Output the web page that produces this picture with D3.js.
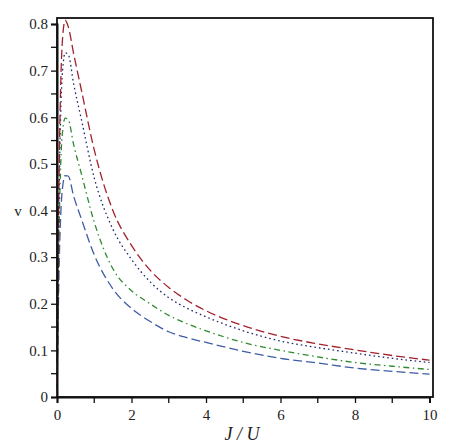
<!DOCTYPE html>
<html>
<head>
<meta charset="utf-8">
<script src="https://cdn.jsdelivr.net/npm/d3@7"></script>
<style>
  html, body { margin: 0; padding: 0; background: #fff; }
  svg { display: block; }
  .tick text { font-family: "Liberation Serif", "DejaVu Serif", serif; font-size: 15px; fill: #222; }
</style>
</head>
<body>
<svg id="chart" width="474" height="445"></svg>
<script>
// J/U sample points shared by every curve
const jValues = [0, 0.03, 0.06, 0.1, 0.15, 0.22, 0.3, 0.45, 0.65, 1.0, 1.5, 2.0, 2.5, 3.0, 3.5, 4.0, 5.0, 6.0, 7.0, 8.0, 9.0, 10.0]

// v values, one array per curve
const vRed = [0, 0.28, 0.5, 0.67, 0.77, 0.808, 0.795, 0.735, 0.66, 0.53, 0.40, 0.325, 0.272, 0.235, 0.207, 0.185, 0.153, 0.13, 0.114, 0.101, 0.089, 0.079]
const vNavy = [0, 0.25, 0.45, 0.61, 0.70, 0.738, 0.735, 0.67, 0.597, 0.47, 0.36, 0.295, 0.247, 0.213, 0.19, 0.172, 0.142, 0.12, 0.106, 0.094, 0.083, 0.074]
const vGreen = [0, 0.2, 0.37, 0.5, 0.57, 0.598, 0.595, 0.54, 0.48, 0.375, 0.275, 0.228, 0.2, 0.175, 0.157, 0.142, 0.117, 0.1, 0.086, 0.074, 0.066, 0.059]
const vBlue = [0, 0.16, 0.29, 0.39, 0.45, 0.475, 0.474, 0.43, 0.383, 0.305, 0.232, 0.19, 0.162, 0.14, 0.127, 0.117, 0.098, 0.083, 0.073, 0.062, 0.055, 0.049]

const xTicks = [0, 2, 4, 6, 8, 10]
const xMinor = [1, 3, 5, 7, 9]
const yTicks = [0, 0.1, 0.2, 0.3, 0.4, 0.5, 0.6, 0.7, 0.8]
const yMinor = [0.05, 0.15, 0.25, 0.35, 0.45, 0.55, 0.65, 0.75]

const series = [
  { v: vBlue, color: '#3d5da6', dash: '9,4' },
  { v: vGreen, color: '#2f8a2f', dash: '6,3.5,1.5,3.5' },
  { v: vNavy, color: '#1f2a6e', dash: '1.6,3' },
  { v: vRed, color: '#a3212e', dash: '9,4' }
]

const svg = d3.select('#chart')
const plotLeft = 57
const plotRight = 433
const plotTop = 18
const plotBottom = 397

const x = d3.scaleLinear().domain([0, 10]).range([plotLeft, 429.5])
const y = d3.scaleLinear().domain([0, 0.8]).range([plotBottom, 24])

// frame
svg.append('rect')
  .attr('x', plotLeft).attr('y', plotTop)
  .attr('width', plotRight - plotLeft).attr('height', plotBottom - plotTop)
  .attr('fill', 'none').attr('stroke', '#111').attr('stroke-width', 1.8)

const line = d3.line()
  .x((d, i) => x(jValues[i]))
  .y(d => y(d))
  .curve(d3.curveMonotoneX)

series.forEach(s => {
  svg.append('path')
    .attr('d', line(s.v))
    .attr('fill', 'none')
    .attr('stroke', s.color)
    .attr('stroke-width', 1.3)
    .attr('stroke-dasharray', s.dash)
})

// axes
const xAxis = svg.append('g')
  .attr('transform', `translate(0,${plotBottom})`)
  .call(d3.axisBottom(x).tickValues(xTicks).tickSize(6).tickPadding(6).tickFormat(d3.format('d')))
xAxis.append('g').selectAll('line').data(xMinor).join('line')
  .attr('x1', d => x(d)).attr('x2', d => x(d))
  .attr('y1', 0).attr('y2', 6)
  .attr('stroke', '#111').attr('stroke-width', 1.3)

const yAxis = svg.append('g')
  .attr('transform', `translate(${plotLeft},0)`)
  .call(d3.axisLeft(y).tickValues(yTicks).tickSize(6).tickPadding(3).tickFormat(d => d === 0 ? '0' : d3.format('.1f')(d)))
yAxis.append('g').selectAll('line').data(yMinor).join('line')
  .attr('x1', -6).attr('x2', 0)
  .attr('y1', d => y(d)).attr('y2', d => y(d))
  .attr('stroke', '#111').attr('stroke-width', 1.3)

svg.selectAll('.domain').attr('stroke', '#111').attr('stroke-width', 2)
svg.selectAll('.tick line').attr('stroke', '#111').attr('stroke-width', 1.3)

// axis titles
svg.append('text')
  .attr('x', 242).attr('y', 440)
  .attr('text-anchor', 'middle')
  .style('font-family', '"Liberation Serif", "DejaVu Serif", serif')
  .style('font-style', 'italic')
  .style('font-size', '18px')
  .attr('fill', '#222')
  .text('J / U')

svg.append('text')
  .attr('x', 18).attr('y', 216)
  .attr('text-anchor', 'middle')
  .style('font-family', '"Liberation Serif", "DejaVu Serif", serif')
  .style('font-size', '15px')
  .attr('fill', '#222')
  .text('v')
</script>
</body>
</html>
